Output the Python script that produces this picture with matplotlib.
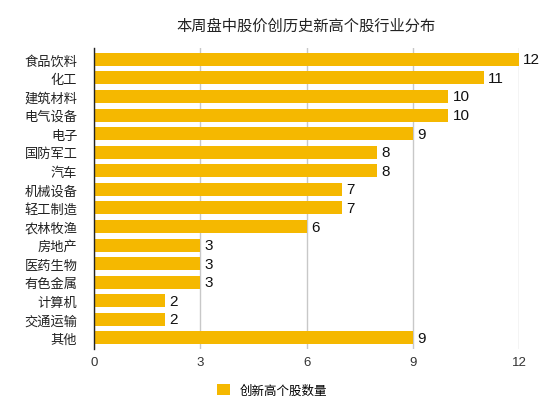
import matplotlib
matplotlib.use('Agg')
import matplotlib.pyplot as plt
from matplotlib.patches import Patch

plt.rcParams['font.family'] = ['Noto Sans CJK SC', 'DejaVu Sans']

categories = ['食品饮料', '化工', '建筑材料', '电气设备', '电子', '国防军工', '汽车',
              '机械设备', '轻工制造', '农林牧渔', '房地产', '医药生物', '有色金属',
              '计算机', '交通运输', '其他']
counts = [12, 11, 10, 10, 9, 8, 8, 7, 7, 6, 3, 3, 3, 2, 2, 9]
xticks = [0, 3, 6, 9, 12]
bar_color = '#F5B800'
num_font = ['Liberation Sans', 'DejaVu Sans']

fig = plt.figure(figsize=(5.5, 4.1), dpi=100)
ax = fig.add_axes([0.171, 0.146, 0.773, 0.734])

y = list(range(len(categories)))
bars = ax.barh(y, counts, height=0.7, color=bar_color, zorder=3)
ax.invert_yaxis()
ax.set_ylim(len(categories) - 0.4, -0.6)
ax.set_xlim(0, 12)

ax.set_yticks(y)
ax.set_yticklabels(categories, fontsize=9.5, color='#222222')
ax.set_xticks(xticks)
ax.set_xticklabels([str(t) for t in xticks], fontsize=9.5, color='#333333',
                   family=num_font)
ax.tick_params(axis='y', length=0, pad=12)
ax.tick_params(axis='x', length=0, pad=5)

ax.xaxis.grid(True, color='#c8c8c8', linewidth=1, zorder=0)
for s in ['top', 'right', 'bottom']:
    ax.spines[s].set_visible(False)
ax.spines['left'].set_color('#222222')
ax.spines['left'].set_linewidth(1)
ax.spines['left'].set_zorder(4)

ax.bar_label(bars, padding=3, fontsize=11, color='#111111', family=num_font)

fig.text(0.557, 0.937, '本周盘中股价创历史新高个股行业分布', ha='center', va='center',
         fontsize=11, color='#222222')

handle = [Patch(facecolor=bar_color, label='创新高个股数量')]
fig.legend(handles=handle, loc='center', bbox_to_anchor=(0.495, 0.045), frameon=False,
           fontsize=9, handlelength=1.0, handleheight=1.0)

fig.savefig('out.png', dpi=100, facecolor='white')
